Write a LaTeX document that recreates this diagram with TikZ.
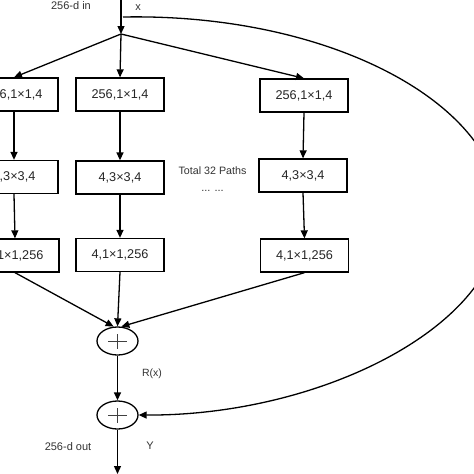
\documentclass[tikz,border=0pt]{standalone}
\usepackage{fontspec}
\setmainfont{Liberation Sans}
\usetikzlibrary{arrows.meta,shapes.geometric}
\begin{document}
\begin{tikzpicture}[x=1pt,y=-1pt,
  conn/.style={line width=1.3pt,-{Triangle[length=8pt,width=7pt]}},
  plainline/.style={line width=1.3pt},
  opbox/.style={draw,line width=1.3pt,minimum width=88pt,minimum height=33pt,inner sep=0pt,font=\fontsize{12.7}{14}\selectfont,text=black!85},
  sumnode/.style={draw,ellipse,line width=1.3pt,minimum width=41pt,minimum height=28pt,inner sep=0pt},
  lbl/.style={font=\fontsize{11}{13}\selectfont,text=black!80,inner sep=0pt}]
\clip (0,0) rectangle (474,474);
\fill[white] (0,0) rectangle (474,474);
% input
\coordinate (in) at (121,0);
\coordinate (split) at (121,34);
\coordinate (xs) at (123,17);
% boxes
\node[opbox] (L1) at (14,94.5) {256,1×1,4};
\node[opbox] (M1) at (120,94.5) {256,1×1,4};
\node[opbox] (R1) at (304,95.5) {256,1×1,4};
\node[opbox] (L2) at (14,177) {4,3×3,4};
\node[opbox] (M2) at (120,177.5) {4,3×3,4};
\node[opbox] (R2) at (303,175.5) {4,3×3,4};
\node[opbox] (L3) at (15,255.5) {4,1×1,256};
\node[opbox] (M3) at (120,255) {4,1×1,256};
\node[opbox] (R3) at (304.5,255.5) {4,1×1,256};
% sums
\node[sumnode] (sum1) at (117.5,341) {};
\node[sumnode] (sum2) at (117.5,415) {};
\foreach \s in {sum1,sum2}{
  \draw[line width=0.6pt,black!75] ([xshift=-9.5pt]\s.center) -- ([xshift=9.5pt]\s.center);
  \draw[line width=0.6pt,black!75] ([yshift=-7.5pt]\s.center) -- ([yshift=7.5pt]\s.center);
}
\coordinate (out) at (117.5,474);
% connectors
\draw[conn] (in) -- (split);
\draw[conn] (split) -- (L1.north);
\draw[conn] (split) -- (M1.north);
\draw[conn] (split) -- (R1.north);
\draw[conn] (L1.south) -- (L2.north);
\draw[conn] (M1.south) -- (M2.north);
\draw[conn] (R1.south) -- (R2.north);
\draw[conn] (L2.south) -- (L3.north);
\draw[conn] (M2.south) -- (M3.north);
\draw[conn] (R2.south) -- (R3.north);
\draw[conn] (L3.south) -- (sum1.105);
\draw[conn] (M3.south) -- (sum1.north);
\draw[conn] (R3.south) -- (sum1.75);
\draw[conn] (sum1.south) -- (sum2.north);
\draw[conn] (sum2.south) -- (out);
\draw[conn] (xs) .. controls (330,13) and (501,104) .. (501,215)
  .. controls (501,326) and (320,416) .. (sum2.east);
% labels
\node[lbl] (tin) at (71,6) {256-d in};
\node[lbl] (tx) at (138,8) {x};
\node[lbl,font=\fontsize{10.7}{13}\selectfont] (tp) at (212.5,171) {Total 32 Paths};
\node[lbl,anchor=base] (td) at (212.5,191) {... ...};
\node[lbl,font=\fontsize{10.5}{13}\selectfont] (tr) at (152,374) {R(x)};
\node[lbl] (ty) at (150,446) {Y};
\node[lbl] (tout) at (68,447) {256-d out};
\end{tikzpicture}
\end{document}
